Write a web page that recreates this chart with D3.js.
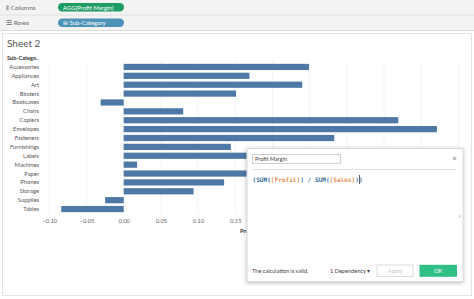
<!DOCTYPE html>
<html><head><meta charset="utf-8">
<script src="https://cdn.jsdelivr.net/npm/d3@7"></script>
<style>
html,body{margin:0;padding:0;background:#fff;}
svg{display:block;font-family:Lato,"Open Sans",sans-serif;}
</style></head>
<body>
<svg id="c" width="474" height="299"></svg>
<script>
const categories = ["Accessories","Appliances","Art","Binders","Bookcases","Chairs","Copiers","Envelopes","Fasteners","Furnishings","Labels","Machines","Paper","Phones","Storage","Supplies","Tables"];
const profitMargin = [0.249,0.169,0.240,0.151,-0.031,0.080,0.369,0.421,0.283,0.144,0.444,0.018,0.434,0.135,0.094,-0.025,-0.084];
const gridValues = [-0.10,-0.05,0.00,0.05,0.10,0.15,0.20,0.25,0.30,0.35,0.40,0.45];
const tickLabels = [-0.10,-0.05,0.00,0.05,0.10,0.15];
const formulaParts = [["(SUM(","#3a6d99"],["[Profit]","#e8904f"],[") / SUM(","#3a6d99"],["[Sales]","#e8904f"],["))","#3a6d99"]];

const svg = d3.select("#c");
const defs = svg.append("defs");
const f = defs.append("filter").attr("id","sh").attr("x","-10%").attr("y","-10%").attr("width","120%").attr("height","125%");
f.append("feDropShadow").attr("dx",0).attr("dy",1).attr("stdDeviation",2).attr("flood-color","#000").attr("flood-opacity",0.25);

// shelf area
svg.append("rect").attr("x",0).attr("y",0).attr("width",474).attr("height",31).attr("fill","#f3f3f3");
svg.append("line").attr("x1",0).attr("x2",474).attr("y1",15).attr("y2",15).attr("stroke","#e2e2e2");
svg.append("line").attr("x1",0).attr("x2",474).attr("y1",30.5).attr("y2",30.5).attr("stroke","#dcdcdc");
svg.append("text").attr("x",6).attr("y",10).attr("font-size",6.5).attr("fill","#666").text("⦀ Columns");
svg.append("text").attr("x",6).attr("y",25).attr("font-size",6.5).attr("fill","#666").text("☰ Rows");
svg.append("rect").attr("x",58).attr("y",3).attr("width",66).attr("height",8.5).attr("rx",4.2).attr("fill","#1f9c64");
svg.append("text").attr("x",63).attr("y",9.6).attr("font-size",6).attr("fill","#fff").text("AGG(Profit Margin)");
svg.append("rect").attr("x",58).attr("y",18.5).attr("width",66).attr("height",8.5).attr("rx",4.2).attr("fill","#4d93b8");
svg.append("text").attr("x",63).attr("y",25).attr("font-size",6).attr("fill","#fff").text("⊞ Sub-Category");

// sheet frame
svg.append("rect").attr("x",2.5).attr("y",33.5).attr("width",469).attr("height",262).attr("fill","#fff").attr("stroke","#e4e4e4");
svg.append("text").attr("x",7).attr("y",47).attr("font-size",10).attr("fill","#555").text("Sheet 2");
svg.append("text").attr("x",7).attr("y",60).attr("font-size",5.6).attr("font-weight","bold").attr("fill","#333").text("Sub-Catego..");

const x = d3.scaleLinear().domain([-0.10,0.45]).range([49.3,458.5]);
const y = d3.scaleBand().domain(categories).range([62.5,213.5]).paddingInner(0.3).paddingOuter(0.15);

// gridlines
svg.append("g").selectAll("line").data(gridValues).join("line")
  .attr("x1",d=>x(d)).attr("x2",d=>x(d)).attr("y1",61).attr("y2",214)
  .attr("stroke","#f3f3f3").attr("stroke-width",1);

// bars
svg.append("g").selectAll("rect").data(categories).join("rect")
  .attr("x",(d,i)=>x(Math.min(0,profitMargin[i])))
  .attr("width",(d,i)=>Math.abs(x(profitMargin[i])-x(0)))
  .attr("y",d=>y(d)).attr("height",y.bandwidth())
  .attr("fill","#4e79a7");

// row labels
svg.append("g").selectAll("text").data(categories).join("text")
  .attr("x",39).attr("y",d=>y(d)+y.bandwidth()/2+2)
  .attr("text-anchor","end").attr("font-size",5.8).attr("fill","#555").text(d=>d);

// x axis (labels hidden by the dialog are not drawn)
const ax = svg.append("g").attr("transform","translate(0,214)")
  .call(d3.axisBottom(x).tickValues(tickLabels).tickFormat(d3.format(".2f")).tickSize(0).tickPadding(5));
ax.select(".domain").remove();
ax.selectAll("text").attr("font-size",5.8).attr("fill","#666").attr("font-family","Lato,'Open Sans',sans-serif");
svg.append("text").attr("x",257).attr("y",233).attr("text-anchor","middle").attr("font-size",5.8).attr("font-weight","bold").attr("fill","#333").text("Profit Margin");

// dialog
const dg = svg.append("g");
dg.append("rect").attr("x",247).attr("y",148.5).attr("width",216).attr("height",133).attr("fill","#fff").attr("stroke","#d8d8d8").attr("filter","url(#sh)");
dg.append("rect").attr("x",252.5).attr("y",154.5).attr("width",88).attr("height",9).attr("fill","#fff").attr("stroke","#d0d0d0");
dg.append("text").attr("x",255).attr("y",161).attr("font-size",5.6).attr("fill","#444").text("Profit Margin");
dg.append("text").attr("x",454.5).attr("y",161).attr("text-anchor","middle").attr("font-size",8).attr("fill","#777").text("×");
dg.append("line").attr("x1",252).attr("x2",456).attr("y1",169.5).attr("y2",169.5).attr("stroke","#e2e2e2");
const ft = dg.append("text").attr("x",252.5).attr("y",181.5).attr("font-size",6.1).attr("font-weight","bold").attr("font-family","'DejaVu Sans Mono','Liberation Mono',monospace");
formulaParts.forEach(p=>ft.append("tspan").attr("fill",p[1]).text(p[0]));
dg.append("line").attr("x1",359.5).attr("x2",359.5).attr("y1",175).attr("y2",184).attr("stroke","#333").attr("stroke-width",0.8);
dg.append("text").attr("x",459.5).attr("y",218).attr("text-anchor","middle").attr("font-size",7).attr("fill","#777").text("›");
dg.append("text").attr("x",252).attr("y",272.5).attr("font-size",5.6).attr("fill","#444").text("The calculation is valid.");
dg.append("text").attr("x",330).attr("y",272.5).attr("font-size",5.6).attr("fill","#444").text("1 Dependency ▾");
dg.append("rect").attr("x",377).attr("y",265).attr("width",36).attr("height",11.5).attr("fill","#fff").attr("stroke","#dcdcdc");
dg.append("text").attr("x",395).attr("y",272.5).attr("text-anchor","middle").attr("font-size",5.6).attr("fill","#c8c8c8").text("Apply");
dg.append("rect").attr("x",419.5).attr("y",264.8).attr("width",37.5).attr("height",12).attr("fill","#2fbf87");
dg.append("text").attr("x",438.2).attr("y",272.8).attr("text-anchor","middle").attr("font-size",5.8).attr("fill","#fff").text("OK");
</script>
</body></html>
